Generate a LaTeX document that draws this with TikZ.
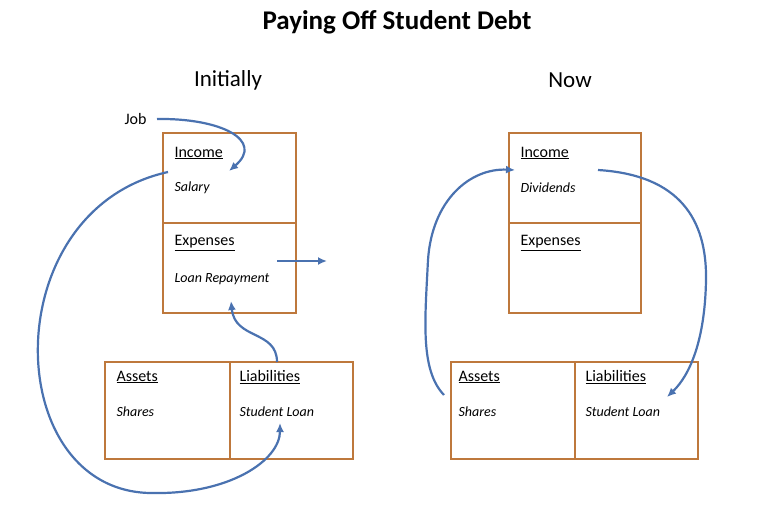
\documentclass[tikz,border=0pt]{standalone}
\usepackage{fontspec}
\setmainfont{Carlito}
\usetikzlibrary{arrows.meta}
\begin{document}
\begin{tikzpicture}[x=1pt,y=-1pt,
 lbl/.style={anchor=west,font=\fontsize{16}{19}\selectfont},
 itl/.style={anchor=west,font=\fontsize{14}{17}\selectfont\itshape},
 arr/.style={draw={rgb,255:red,74;green,114;blue,176},line width=2.2pt,-{Latex[length=9pt,width=8pt]}}]
\definecolor{br}{RGB}{190,120,60}
\tikzset{box/.style={draw=br,line width=2.4pt}}
\useasboundingbox (0,0) rectangle (768,528);
\node[font=\fontsize{27}{32}\selectfont\bfseries] (title) at (397,22) {Paying Off Student Debt};
\node[font=\fontsize{23}{27}\selectfont] (ini) at (228,80) {Initially};
\node[font=\fontsize{23}{27}\selectfont] (now) at (570,80) {Now};
% left
\draw[box] (163,133) rectangle (296,223);
\draw[box] (163,223) rectangle (296,313);
\draw[box] (105,362) rectangle (353,459);
\draw[box] (230,362) -- (230,459);
% right
\draw[box] (509,133) rectangle (641,223);
\draw[box] (509,223) rectangle (641,313);
\draw[box] (451,362) rectangle (698,459);
\draw[box] (575,362) -- (575,459);
\node[lbl] (job) at (121,119) {Job};
\node[lbl] (inc1) at (171,153) {\underline{Income}};
\node[itl] (sal) at (171,188) {Salary};
\node[lbl] (exp1) at (171,243) {\underline{Expenses}};
\node[itl] (loan) at (171,279) {Loan Repayment};
\node[lbl] (as1) at (113,377) {\underline{Assets}};
\node[itl] (sh1) at (113,412) {Shares};
\node[lbl] (li1) at (236,377) {\underline{Liabilities}};
\node[itl] (sl1) at (236,412) {Student Loan};
\node[lbl] (inc2) at (517,153) {\underline{Income}};
\node[itl] (div) at (517,188) {Dividends};
\node[lbl] (exp2) at (517,243) {\underline{Expenses}};
\node[lbl] (as2) at (455,377) {\underline{Assets}};
\node[itl] (sh2) at (455,412) {Shares};
\node[lbl] (li2) at (582,377) {\underline{Liabilities}};
\node[itl] (sl2) at (582,412) {Student Loan};
\coordinate (a1) at (157,119); \coordinate (a1e) at (229,171);
\draw[arr] (a1) .. controls (220,118) and (265,140) .. (a1e);
\coordinate (b1) at (277,261); \coordinate (b1e) at (327,261);
\draw[arr] (b1) -- (b1e);
\coordinate (c1) at (277,362); \coordinate (c1e) at (231,301);
\draw[arr] (c1) .. controls (277,330) and (235,340) .. (c1e);
\coordinate (d1) at (168,172); \coordinate (d1e) at (280,423);
\draw[arr] (d1) .. controls (-5,210) and (0,490) .. (150,493) .. controls (230,495) and (280,460) .. (d1e);
\coordinate (e1) at (444,395); \coordinate (e1e) at (515,170);
\draw[arr] (e1) .. controls (420,370) and (425,320) .. (428,260) .. controls (432,200) and (470,168) .. (e1e);
\coordinate (f1) at (598,170); \coordinate (f1e) at (667,397);
\draw[arr] (f1) .. controls (680,175) and (707,220) .. (706,280) .. controls (705,340) and (690,375) .. (f1e);
\end{tikzpicture}
\end{document}
